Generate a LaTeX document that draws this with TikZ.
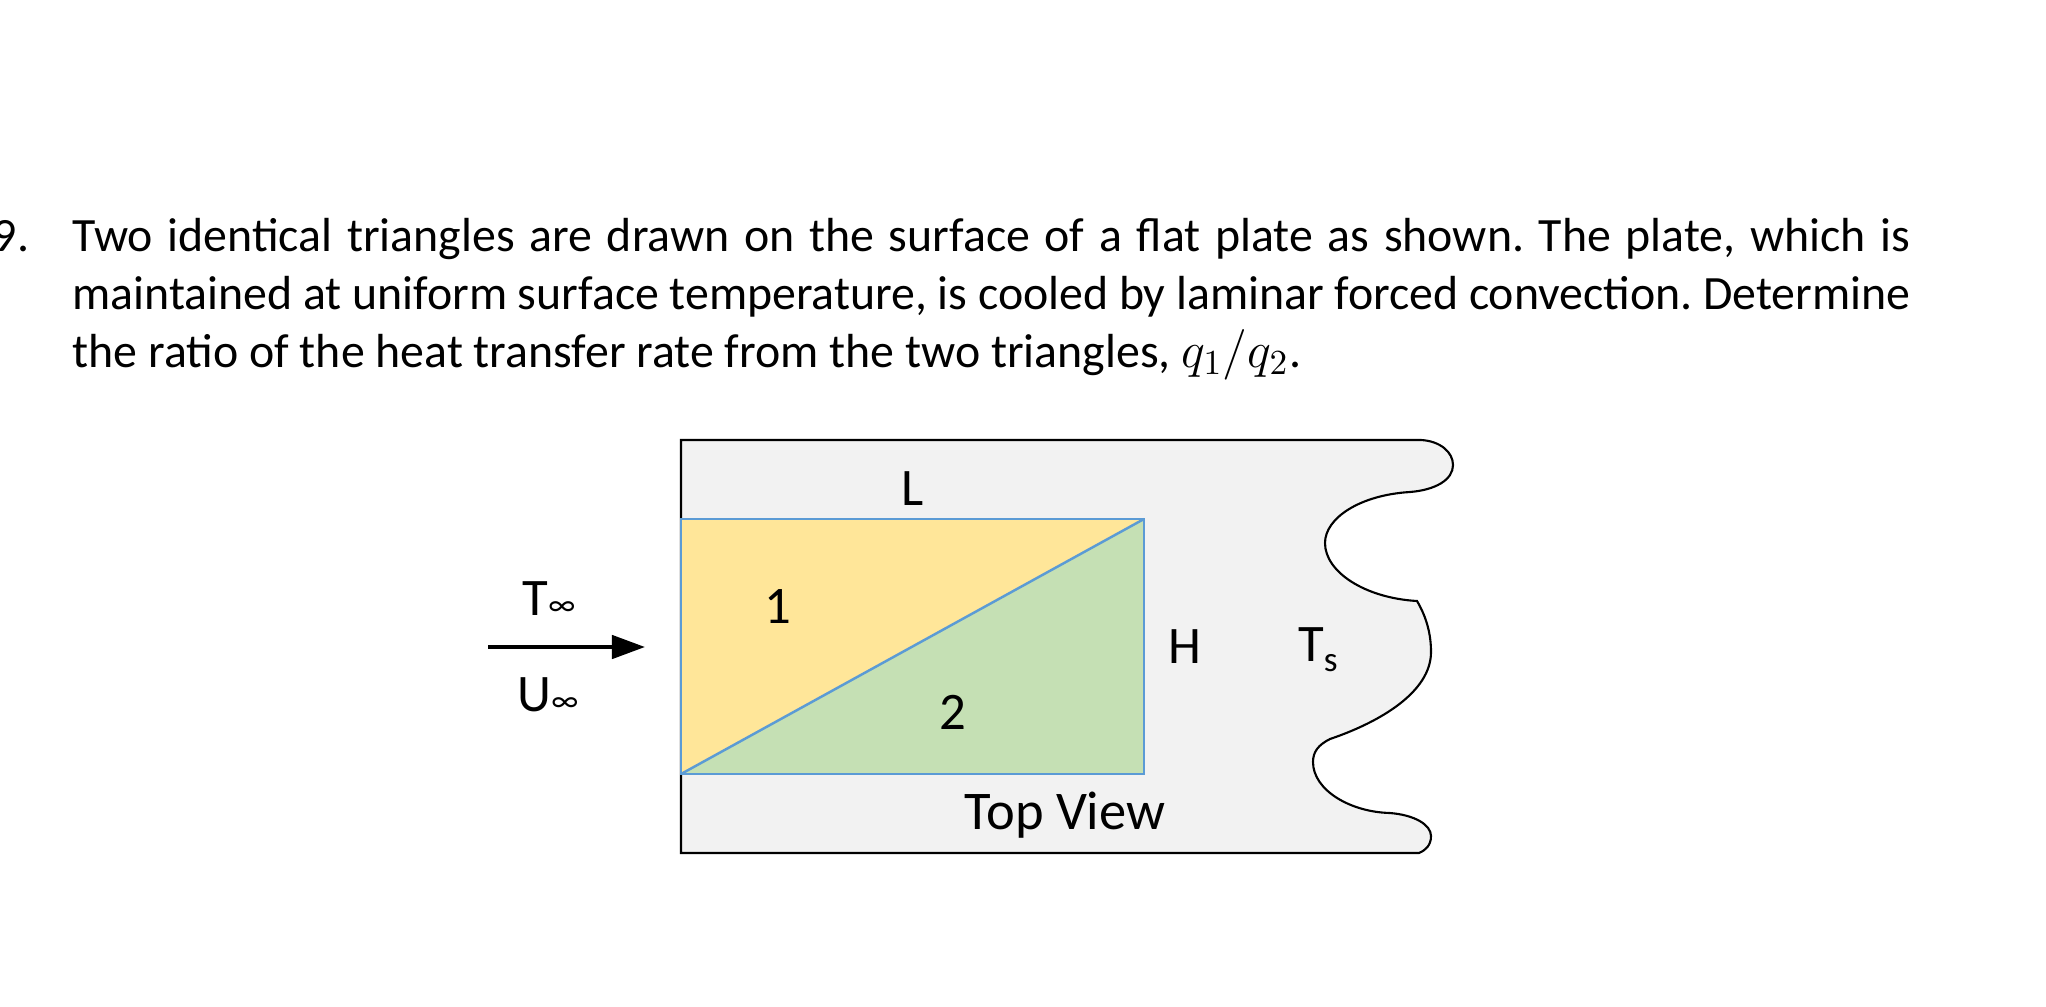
\documentclass[tikz,border=0pt]{standalone}
\usepackage{fontspec}
\setmainfont{Carlito}
\usetikzlibrary{arrows.meta}
\definecolor{platefill}{HTML}{F2F2F2}
\definecolor{triyellow}{HTML}{FFE699}
\definecolor{trigreen}{HTML}{C5E0B4}
\definecolor{edgeblue}{HTML}{5B9BD5}
\newcommand{\infsub}{{\fontsize{9}{9}\selectfont ∞}}
\frenchspacing
\hyphenpenalty=10000
\exhyphenpenalty=10000
\begin{document}
\begin{tikzpicture}[x=0.01cm,y=-0.01cm,
  lbl/.style={inner sep=0pt,font=\fontsize{15}{18}\selectfont},
  qfont/.style={inner sep=0pt,font=\fontsize{13.6}{16.5}\selectfont},
  platestyle/.style={fill=platefill,draw=black,line width=0.6pt},
  edgestyle/.style={draw=edgeblue,line width=0.7pt},
  flowarrow/.style={line width=1.15pt,-{Triangle[length=9.4pt,width=6.6pt]}}]
\useasboundingbox (0,0) rectangle (2046,1006);
\clip (0,0) rectangle (2046,1006);
\fill[white] (0,0) rectangle (2046,1006);
% question text
\node[qfont,anchor=base east] (qnum) at (30,251) {9.};
\node[qfont,anchor=base west,text width=522.6pt,align=justify] (qtext) at (72,251)
  {Two identical triangles are drawn on the surface of a flat plate as shown. The plate, which is\linebreak
   maintained at uniform surface temperature, is cooled by laminar forced convection. Determine\linebreak
   the ratio of the heat transfer rate from the two triangles, $q_1/q_2$.};
% plate
\coordinate (pTL) at (681,440);
\coordinate (pBL) at (681,853);
\draw[platestyle] (pTL) -- (1421,440)
  .. controls (1440,441) and (1453,452) .. (1453,465)
  .. controls (1453,480) and (1435,490) .. (1410,492)
  .. controls (1360,495) and (1325,518) .. (1325,543)
  .. controls (1325,572) and (1365,598) .. (1417,601)
  .. controls (1427,618) and (1431,635) .. (1431,652)
  .. controls (1431,692) and (1380,722) .. (1330,739)
  .. controls (1318,745) and (1313,752) .. (1313,762)
  .. controls (1313,790) and (1350,812) .. (1390,813)
  .. controls (1415,815) and (1431,825) .. (1431,836)
  .. controls (1431,845) and (1426,850) .. (1419,853)
  -- (pBL) -- cycle;
% triangles
\coordinate (rTL) at (681,519);
\coordinate (rTR) at (1144,519);
\coordinate (rBL) at (681,774);
\coordinate (rBR) at (1144,774);
\fill[triyellow] (rTL) -- (rTR) -- (rBL) -- cycle;
\fill[trigreen] (rBL) -- (rTR) -- (rBR) -- cycle;
\draw[edgestyle] (rTL) -- (rTR) -- (rBR) -- (rBL) -- cycle;
\draw[edgestyle] (rBL) -- (rTR);
% labels
\node[lbl] (lL) at (913,489) {L};
\node[lbl] (l1) at (778,607) {1};
\node[lbl] (l2) at (953,712) {2};
\node[lbl] (lH) at (1185,647) {H};
\node[lbl] (lTs) at (1318,650) {T\raisebox{-0.4ex}{\fontsize{10}{10}\selectfont s}};
\node[lbl,font=\fontsize{15.5}{18}\selectfont] (lTop) at (1065,815) {Top View};
\node[lbl] (lTinf) at (549,599) {T\infsub};
\node[lbl] (lUinf) at (548,695) {U\infsub};
% flow arrow
\coordinate (aS) at (488,647);
\coordinate (aE) at (645,647);
\draw[flowarrow] (aS) -- (aE);
\end{tikzpicture}
\end{document}
